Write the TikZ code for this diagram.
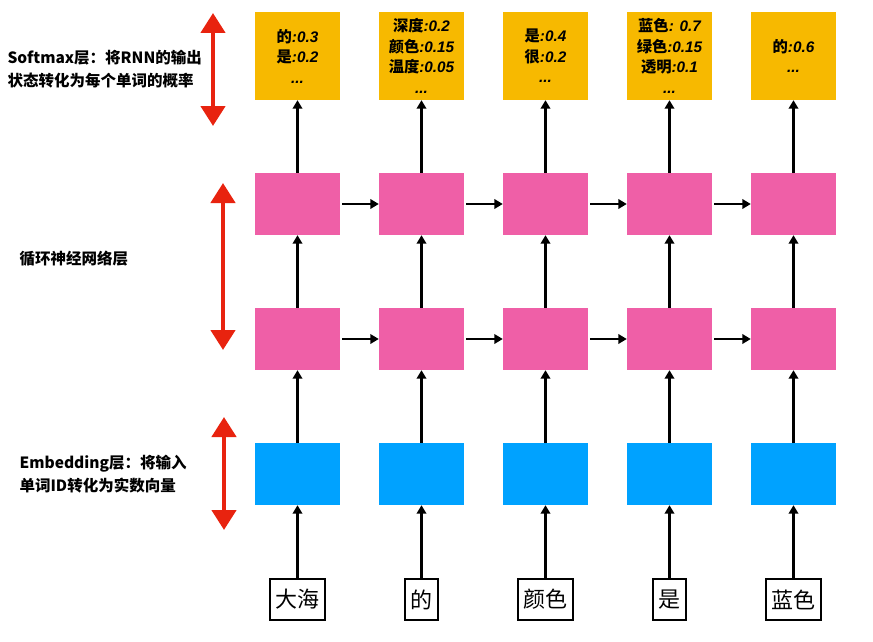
\documentclass[tikz,border=0pt]{standalone}
\usepackage{fontspec}
\setmainfont{Noto Sans CJK SC}
\newfontfamily\numfont{Liberation Sans}
\usetikzlibrary{arrows.meta}
\definecolor{outyellow}{HTML}{F7B900}
\definecolor{rnnpink}{HTML}{EF5FA7}
\definecolor{embblue}{HTML}{00A2FF}
\definecolor{layerred}{HTML}{E8230F}
\newcommand{\prob}[1]{{\numfont\bfseries\itshape #1}}
\tikzset{
  outbox/.style={fill=outyellow, minimum width=85pt, minimum height=88pt, inner sep=0pt,
    align=center, font=\fontsize{15.3}{20.5}\selectfont\bfseries},
  rnnbox/.style={fill=rnnpink, minimum width=85pt, minimum height=62pt, inner sep=0pt},
  embbox/.style={fill=embblue, minimum width=85pt, minimum height=62pt, inner sep=0pt},
  wordbox/.style={draw, line width=1.6pt, minimum height=41pt, inner xsep=5.5pt, inner ysep=0pt,
    font=\fontsize{22}{22}\selectfont},
  flow/.style={line width=2.3pt, -{Triangle[length=8.5pt,width=9.5pt]}},
  layer/.style={layerred, line width=4.5pt, {Triangle[length=20pt,width=24pt]}-{Triangle[length=20pt,width=24pt]}},
  label/.style={anchor=west, align=left, font=\fontsize{15.5}{23}\selectfont\bfseries}
}
\begin{document}
\begin{tikzpicture}[x=1pt,y=-1pt]
  \useasboundingbox (0,0) rectangle (873,642);

  % Ausgabe
  \node[outbox] (y1) at (297.5,56) {的\prob{:0.3}\\是\prob{:0.2}\\\prob{...}};
  \node[outbox] (y2) at (421.5,56) {深度\prob{:0.2}\\颜色\prob{:0.15}\\温度\prob{:0.05}\\\prob{...}};
  \node[outbox] (y3) at (545.5,56) {是\prob{:0.4}\\很\prob{:0.2}\\\prob{...}};
  \node[outbox] (y4) at (669.5,56) {蓝色\prob{: 0.7}\\绿色\prob{:0.15}\\透明\prob{:0.1}\\\prob{...}};
  \node[outbox] (y5) at (793.5,56) {的\prob{:0.6}\\\prob{...}};

  \foreach \i/\w in {1/大海,2/的,3/颜色,4/是,5/蓝色} {
    \node[rnnbox] (a\i) at (173.5+124*\i,204) {};
    \node[rnnbox] (b\i) at (173.5+124*\i,339) {};
    \node[embbox] (e\i) at (173.5+124*\i,474) {};
    \node[wordbox] (w\i) at (173.5+124*\i,599.5) {\w};
    \draw[flow] (w\i) -- (e\i);
    \draw[flow] (e\i) -- (b\i);
    \draw[flow] (b\i) -- (a\i);
    \draw[flow] (a\i) -- (y\i);
  }
  \foreach \i/\j in {1/2,2/3,3/4,4/5} {
    \draw[flow, shorten <=2pt] (a\i) -- (a\j);
    \draw[flow, shorten <=2pt] (b\i) -- (b\j);
  }

  % Schichten
  \coordinate (t1) at (213,13);  \coordinate (t2) at (213,126);
  \coordinate (m1) at (223,183); \coordinate (m2) at (223,350);
  \coordinate (u1) at (224,417); \coordinate (u2) at (224,530);
  \draw[layer] (t1) -- (t2);
  \draw[layer] (m1) -- (m2);
  \draw[layer] (u1) -- (u2);

  \node[label] (ls) at (4,69) {Softmax层：将RNN的输出\\状态转化为每个单词的概率};
  \node[label] (lr) at (16,259) {循环神经网络层};
  \node[label] (le) at (16,474) {Embedding层：将输入\\单词ID转化为实数向量};
\end{tikzpicture}
\end{document}
